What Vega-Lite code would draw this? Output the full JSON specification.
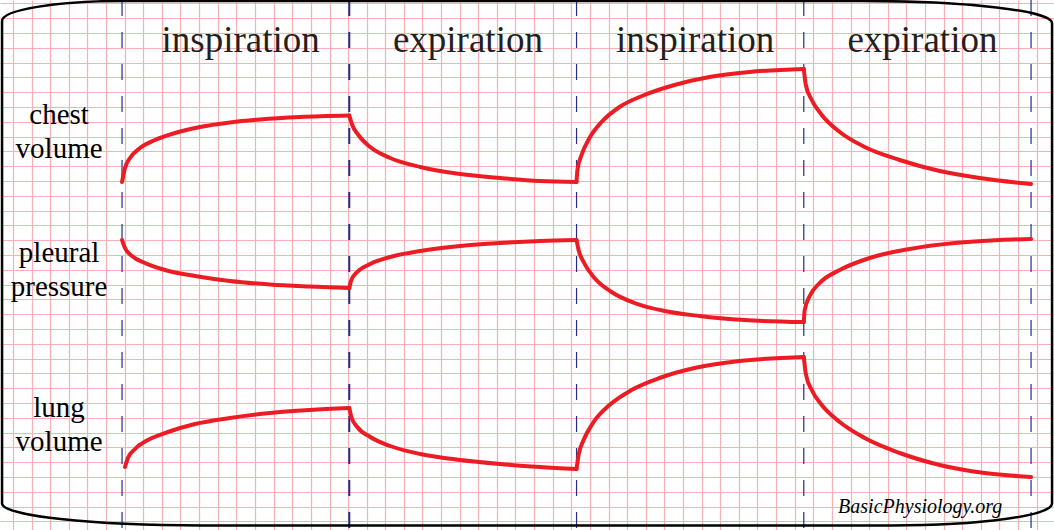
{
  "$schema": "https://vega.github.io/schema/vega-lite/v6.json",
  "width": 1054,
  "height": 530,
  "autosize": "none",
  "padding": 0,
  "background": "white",
  "config": {"view": {"stroke": null}},
  "datasets": {
    "traces": [
      {"trace": "chest", "seg": 1, "t": 0.0, "v": 34.8},
      {"trace": "chest", "seg": 1, "t": 0.013, "v": 36.2},
      {"trace": "chest", "seg": 1, "t": 0.035, "v": 37.2},
      {"trace": "chest", "seg": 1, "t": 0.079, "v": 38.2},
      {"trace": "chest", "seg": 1, "t": 0.145, "v": 39.0},
      {"trace": "chest", "seg": 1, "t": 0.233, "v": 39.7},
      {"trace": "chest", "seg": 1, "t": 0.343, "v": 40.3},
      {"trace": "chest", "seg": 1, "t": 0.475, "v": 40.75},
      {"trace": "chest", "seg": 1, "t": 0.607, "v": 41.05},
      {"trace": "chest", "seg": 1, "t": 0.783, "v": 41.3},
      {"trace": "chest", "seg": 1, "t": 1.0, "v": 41.45},
      {"trace": "chest", "seg": 2, "t": 1.0, "v": 41.45},
      {"trace": "chest", "seg": 2, "t": 1.013, "v": 40.5},
      {"trace": "chest", "seg": 2, "t": 1.04, "v": 39.5},
      {"trace": "chest", "seg": 2, "t": 1.092, "v": 38.3},
      {"trace": "chest", "seg": 2, "t": 1.18, "v": 37.2},
      {"trace": "chest", "seg": 2, "t": 1.312, "v": 36.3},
      {"trace": "chest", "seg": 2, "t": 1.488, "v": 35.6},
      {"trace": "chest", "seg": 2, "t": 1.664, "v": 35.2},
      {"trace": "chest", "seg": 2, "t": 1.84, "v": 34.9},
      {"trace": "chest", "seg": 2, "t": 2.0, "v": 34.8},
      {"trace": "chest", "seg": 3, "t": 2.0, "v": 34.8},
      {"trace": "chest", "seg": 3, "t": 2.004, "v": 36.0},
      {"trace": "chest", "seg": 3, "t": 2.022, "v": 37.5},
      {"trace": "chest", "seg": 3, "t": 2.057, "v": 39.2},
      {"trace": "chest", "seg": 3, "t": 2.11, "v": 40.8},
      {"trace": "chest", "seg": 3, "t": 2.189, "v": 42.3},
      {"trace": "chest", "seg": 3, "t": 2.299, "v": 43.5},
      {"trace": "chest", "seg": 3, "t": 2.431, "v": 44.5},
      {"trace": "chest", "seg": 3, "t": 2.585, "v": 45.3},
      {"trace": "chest", "seg": 3, "t": 2.761, "v": 45.8},
      {"trace": "chest", "seg": 3, "t": 3.0, "v": 46.1},
      {"trace": "chest", "seg": 4, "t": 3.0, "v": 46.1},
      {"trace": "chest", "seg": 4, "t": 3.009, "v": 44.5},
      {"trace": "chest", "seg": 4, "t": 3.035, "v": 43.0},
      {"trace": "chest", "seg": 4, "t": 3.079, "v": 41.5},
      {"trace": "chest", "seg": 4, "t": 3.158, "v": 39.8},
      {"trace": "chest", "seg": 4, "t": 3.268, "v": 38.3},
      {"trace": "chest", "seg": 4, "t": 3.422, "v": 37.0},
      {"trace": "chest", "seg": 4, "t": 3.598, "v": 35.9},
      {"trace": "chest", "seg": 4, "t": 3.774, "v": 35.2},
      {"trace": "chest", "seg": 4, "t": 4.0, "v": 34.6},
      {"trace": "pleural", "seg": 1, "t": 0.0, "v": 29.0},
      {"trace": "pleural", "seg": 1, "t": 0.013, "v": 28.2},
      {"trace": "pleural", "seg": 1, "t": 0.044, "v": 27.4},
      {"trace": "pleural", "seg": 1, "t": 0.101, "v": 26.7},
      {"trace": "pleural", "seg": 1, "t": 0.189, "v": 26.0},
      {"trace": "pleural", "seg": 1, "t": 0.321, "v": 25.4},
      {"trace": "pleural", "seg": 1, "t": 0.475, "v": 24.9},
      {"trace": "pleural", "seg": 1, "t": 0.651, "v": 24.55},
      {"trace": "pleural", "seg": 1, "t": 0.827, "v": 24.35},
      {"trace": "pleural", "seg": 1, "t": 1.0, "v": 24.2},
      {"trace": "pleural", "seg": 2, "t": 1.0, "v": 24.2},
      {"trace": "pleural", "seg": 2, "t": 1.009, "v": 25.0},
      {"trace": "pleural", "seg": 2, "t": 1.035, "v": 25.8},
      {"trace": "pleural", "seg": 2, "t": 1.092, "v": 26.6},
      {"trace": "pleural", "seg": 2, "t": 1.18, "v": 27.3},
      {"trace": "pleural", "seg": 2, "t": 1.312, "v": 27.9},
      {"trace": "pleural", "seg": 2, "t": 1.488, "v": 28.4},
      {"trace": "pleural", "seg": 2, "t": 1.664, "v": 28.7},
      {"trace": "pleural", "seg": 2, "t": 1.84, "v": 28.9},
      {"trace": "pleural", "seg": 2, "t": 2.0, "v": 29.0},
      {"trace": "pleural", "seg": 3, "t": 2.0, "v": 29.0},
      {"trace": "pleural", "seg": 3, "t": 2.009, "v": 28.0},
      {"trace": "pleural", "seg": 3, "t": 2.031, "v": 26.8},
      {"trace": "pleural", "seg": 3, "t": 2.079, "v": 25.2},
      {"trace": "pleural", "seg": 3, "t": 2.154, "v": 23.8},
      {"trace": "pleural", "seg": 3, "t": 2.255, "v": 22.7},
      {"trace": "pleural", "seg": 3, "t": 2.387, "v": 21.9},
      {"trace": "pleural", "seg": 3, "t": 2.541, "v": 21.4},
      {"trace": "pleural", "seg": 3, "t": 2.739, "v": 21.0},
      {"trace": "pleural", "seg": 3, "t": 3.0, "v": 20.8},
      {"trace": "pleural", "seg": 4, "t": 3.0, "v": 20.8},
      {"trace": "pleural", "seg": 4, "t": 3.004, "v": 22.0},
      {"trace": "pleural", "seg": 4, "t": 3.026, "v": 23.4},
      {"trace": "pleural", "seg": 4, "t": 3.07, "v": 24.7},
      {"trace": "pleural", "seg": 4, "t": 3.158, "v": 26.0},
      {"trace": "pleural", "seg": 4, "t": 3.29, "v": 27.2},
      {"trace": "pleural", "seg": 4, "t": 3.466, "v": 28.1},
      {"trace": "pleural", "seg": 4, "t": 3.664, "v": 28.7},
      {"trace": "pleural", "seg": 4, "t": 3.862, "v": 29.0},
      {"trace": "pleural", "seg": 4, "t": 4.0, "v": 29.1},
      {"trace": "lung", "seg": 1, "t": 0.013, "v": 6.3},
      {"trace": "lung", "seg": 1, "t": 0.026, "v": 7.2},
      {"trace": "lung", "seg": 1, "t": 0.057, "v": 8.1},
      {"trace": "lung", "seg": 1, "t": 0.114, "v": 9.0},
      {"trace": "lung", "seg": 1, "t": 0.202, "v": 9.8},
      {"trace": "lung", "seg": 1, "t": 0.321, "v": 10.6},
      {"trace": "lung", "seg": 1, "t": 0.475, "v": 11.2},
      {"trace": "lung", "seg": 1, "t": 0.651, "v": 11.7},
      {"trace": "lung", "seg": 1, "t": 0.827, "v": 12.0},
      {"trace": "lung", "seg": 1, "t": 1.0, "v": 12.2},
      {"trace": "lung", "seg": 2, "t": 1.0, "v": 12.2},
      {"trace": "lung", "seg": 2, "t": 1.009, "v": 11.3},
      {"trace": "lung", "seg": 2, "t": 1.035, "v": 10.3},
      {"trace": "lung", "seg": 2, "t": 1.092, "v": 9.3},
      {"trace": "lung", "seg": 2, "t": 1.18, "v": 8.4},
      {"trace": "lung", "seg": 2, "t": 1.312, "v": 7.6},
      {"trace": "lung", "seg": 2, "t": 1.488, "v": 7.0},
      {"trace": "lung", "seg": 2, "t": 1.664, "v": 6.6},
      {"trace": "lung", "seg": 2, "t": 1.84, "v": 6.3},
      {"trace": "lung", "seg": 2, "t": 2.0, "v": 6.1},
      {"trace": "lung", "seg": 3, "t": 2.0, "v": 6.1},
      {"trace": "lung", "seg": 3, "t": 2.009, "v": 7.5},
      {"trace": "lung", "seg": 3, "t": 2.031, "v": 9.0},
      {"trace": "lung", "seg": 3, "t": 2.075, "v": 10.8},
      {"trace": "lung", "seg": 3, "t": 2.145, "v": 12.5},
      {"trace": "lung", "seg": 3, "t": 2.242, "v": 14.0},
      {"trace": "lung", "seg": 3, "t": 2.365, "v": 15.2},
      {"trace": "lung", "seg": 3, "t": 2.519, "v": 16.2},
      {"trace": "lung", "seg": 3, "t": 2.717, "v": 16.9},
      {"trace": "lung", "seg": 3, "t": 3.0, "v": 17.3},
      {"trace": "lung", "seg": 4, "t": 3.0, "v": 17.3},
      {"trace": "lung", "seg": 4, "t": 3.009, "v": 15.6},
      {"trace": "lung", "seg": 4, "t": 3.035, "v": 14.0},
      {"trace": "lung", "seg": 4, "t": 3.079, "v": 12.5},
      {"trace": "lung", "seg": 4, "t": 3.158, "v": 10.8},
      {"trace": "lung", "seg": 4, "t": 3.268, "v": 9.2},
      {"trace": "lung", "seg": 4, "t": 3.422, "v": 7.7},
      {"trace": "lung", "seg": 4, "t": 3.598, "v": 6.5},
      {"trace": "lung", "seg": 4, "t": 3.796, "v": 5.7},
      {"trace": "lung", "seg": 4, "t": 4.0, "v": 5.3}
    ],
    "edges": [{"t": 0}, {"t": 1}, {"t": 2}, {"t": 3}, {"t": 4}],
    "labels": [
      {"kind": "phase", "label": "inspiration", "t": 0.5, "v": 47.8},
      {"kind": "phase", "label": "expiration", "t": 1.5, "v": 47.8},
      {"kind": "phase", "label": "inspiration", "t": 2.5, "v": 47.8},
      {"kind": "phase", "label": "expiration", "t": 3.5, "v": 47.8},
      {"kind": "row", "label": "chest\nvolume", "t": -0.277, "v": 40.6},
      {"kind": "row", "label": "pleural\npressure", "t": -0.277, "v": 26.8},
      {"kind": "row", "label": "lung\nvolume", "t": -0.277, "v": 11.3},
      {"kind": "credit", "label": "BasicPhysiology.org", "t": 3.151, "v": 1.7},
      {"kind": "frame", "label": "", "t": 1.7822, "v": 26.675}
    ]
  },
  "encoding": {
    "x": {
      "field": "t",
      "type": "quantitative",
      "scale": {"domain": [-0.537, 4.101], "nice": false, "zero": false},
      "axis": {
        "values": [-0.48, -0.398, -0.316, -0.234, -0.152, -0.07, 0.012, 0.093, 0.175, 0.257, 0.339, 0.421, 0.503, 0.585, 0.667, 0.749, 0.831, 0.913, 0.994, 1.076, 1.158, 1.24, 1.322, 1.404, 1.486, 1.568, 1.65, 1.731, 1.813, 1.895, 1.977, 2.059, 2.141, 2.223, 2.305, 2.387, 2.468, 2.55, 2.632, 2.714, 2.796, 2.878, 2.96, 3.042, 3.124, 3.206, 3.287, 3.369, 3.451, 3.533, 3.615, 3.697, 3.779, 3.861, 3.943, 4.024],
        "grid": true, "gridColor": "#f6b0b6", "gridWidth": 1.2,
        "labels": false, "ticks": false, "domain": false, "title": null
      }
    }
  },
  "layer": [
    {
      "data": {"name": "edges"},
      "mark": {"type": "rule", "strokeDash": [16, 16], "stroke": "#2b2b80"},
      "encoding": {
        "strokeWidth": {"condition": {"test": "datum.t === 1", "value": 2}, "value": 1.2}
      }
    },
    {
      "encoding": {
        "y": {
          "field": "v",
          "type": "quantitative",
          "scale": {"domain": [0, 53], "nice": false, "zero": false},
          "axis": {
            "values": [52.66, 51.18, 49.7, 48.22, 46.74, 45.26, 43.78, 42.3, 40.82, 39.34, 37.86, 36.38, 34.9, 33.42, 31.94, 30.46, 28.98, 27.5, 26.02, 24.54, 23.06, 21.58, 20.1, 18.62, 17.14, 15.66, 14.18, 12.7, 11.22, 9.74, 8.26, 6.78, 5.3, 3.82, 2.34, 0.86],
            "grid": true, "gridColor": "#f6b0b6", "gridWidth": 1.2,
            "labels": false, "ticks": false, "domain": false, "title": null
          }
        }
      },
      "layer": [
        {
          "data": {"name": "traces"},
          "mark": {"type": "line", "color": "#ed1c24", "strokeWidth": 4, "interpolate": "monotone", "strokeCap": "round"},
          "encoding": {
            "detail": [{"field": "trace"}, {"field": "seg"}],
            "order": {"field": "t"}
          }
        },
        {
          "data": {"name": "labels"},
          "transform": [{"filter": "datum.kind === 'phase'"}],
          "mark": {"type": "text", "font": "Liberation Serif", "fontSize": 37, "align": "center", "baseline": "alphabetic", "dx": 5, "color": "#231f20"},
          "encoding": {"text": {"field": "label"}}
        },
        {
          "data": {"name": "labels"},
          "transform": [{"filter": "datum.kind === 'row'"}],
          "mark": {"type": "text", "font": "Liberation Serif", "fontSize": 29, "lineBreak": "\n", "lineHeight": 34, "align": "center", "baseline": "alphabetic", "color": "#000000"},
          "encoding": {"text": {"field": "label"}}
        },
        {
          "data": {"name": "labels"},
          "transform": [{"filter": "datum.kind === 'credit'"}],
          "mark": {"type": "text", "font": "Liberation Serif", "fontSize": 20, "fontStyle": "italic", "align": "left", "baseline": "alphabetic", "color": "#000000"},
          "encoding": {"text": {"field": "label"}}
        },
        {
          "data": {"name": "labels"},
          "transform": [{"filter": "datum.kind === 'frame'"}],
          "mark": {
            "type": "point",
            "shape": "M -1 -0.4614 C -1 -0.4825 -0.8977 -0.4995 -0.7714 -0.4995 L 0.6381 -0.4995 C 0.8379 -0.4995 1 -0.4808 1 -0.4576 L 1 0.4576 C 1 0.4808 0.8636 0.4995 0.6952 0.4995 L -0.619 0.4995 C -0.8295 0.4995 -1 0.4808 -1 0.4576 Z",
            "size": 1102500,
            "filled": false,
            "stroke": "#000000",
            "strokeWidth": 2.5,
            "opacity": 1
          }
        }
      ]
    }
  ]
}
